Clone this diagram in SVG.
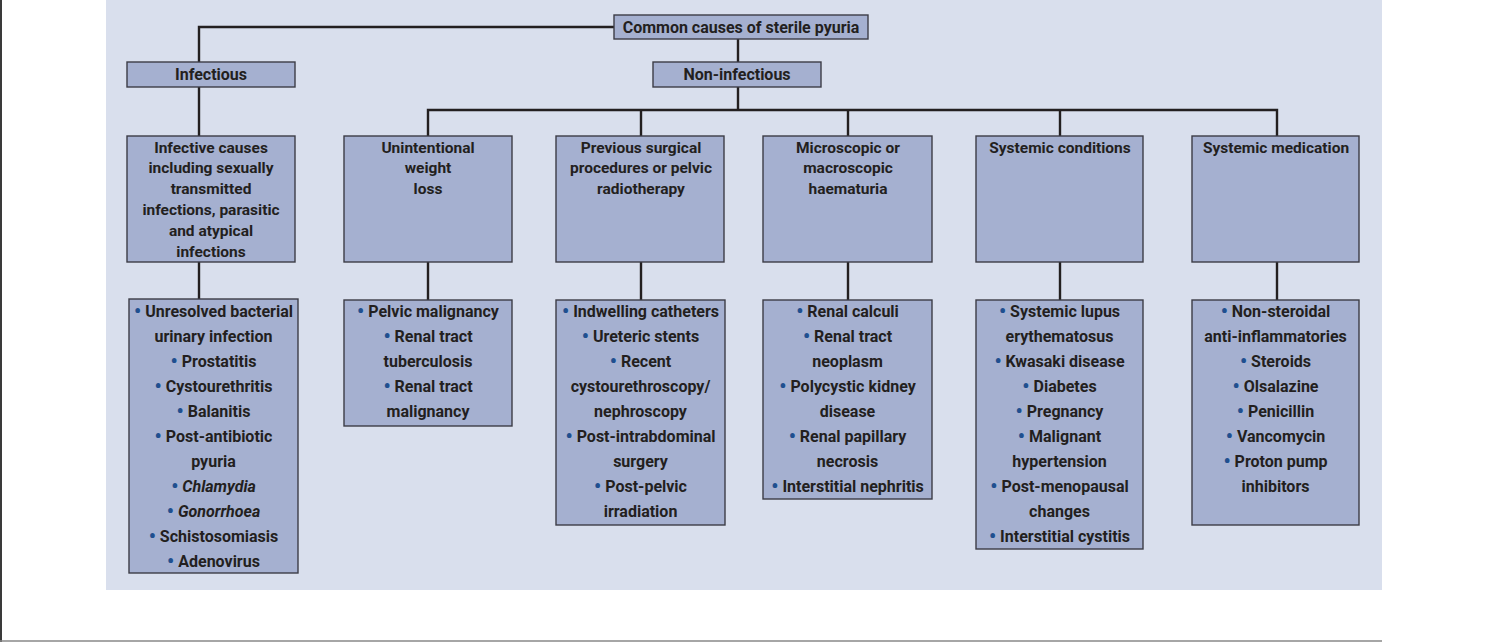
<svg xmlns="http://www.w3.org/2000/svg" width="1485" height="642" viewBox="0 0 1485 642">
<style>
.bg{fill:#d9dfed}
.box{fill:#a5b0d0;stroke:#3c3c46;stroke-width:1.4}
.t{font-family:Roboto,"Liberation Sans",sans-serif;font-weight:700;font-size:15.5px;fill:#231f20;text-anchor:middle;dominant-baseline:central}
.h{font-size:16px}
.l{font-size:16px}
.b{fill:#1f4f8f;font-size:20px}
.i{font-style:italic}
.c{fill:none;stroke:#231f20;stroke-width:2.4}
</style>
<rect x="0" y="0" width="1485" height="642" fill="#ffffff"/>
<rect class="bg" x="106" y="0" width="1276" height="590"/>
<line x1="1" y1="0" x2="1" y2="642" stroke="#3a3a3a" stroke-width="2"/>
<line x1="0" y1="641" x2="1382" y2="641" stroke="#888888" stroke-width="1.5"/>
<g id="connectors">
<polyline class="c" points="614,27 199,27 199,62"/>
<line class="c" x1="199" y1="87" x2="199" y2="136"/>
<line class="c" x1="738" y1="39" x2="738" y2="62"/>
<line class="c" x1="738" y1="87" x2="738" y2="110"/>
<polyline class="c" points="428,136 428,110 1277,110 1277,136"/>
<line class="c" x1="641" y1="110" x2="641" y2="136"/>
<line class="c" x1="848" y1="110" x2="848" y2="136"/>
<line class="c" x1="1060" y1="110" x2="1060" y2="136"/>
<line class="c" x1="199" y1="262" x2="199" y2="299"/>
<line class="c" x1="428" y1="262" x2="428" y2="300"/>
<line class="c" x1="641" y1="262" x2="641" y2="300"/>
<line class="c" x1="848" y1="262" x2="848" y2="300"/>
<line class="c" x1="1060" y1="262" x2="1060" y2="300"/>
<line class="c" x1="1277" y1="262" x2="1277" y2="300"/>
</g>
<g id="root">
<rect class="box" x="614" y="15" width="254" height="24"/>
<text class="t h" x="741" y="27">Common causes of sterile pyuria</text>
</g>
<g id="infectious">
<rect class="box" x="127" y="62" width="168" height="25"/>
<text class="t h" x="211" y="74">Infectious</text>
</g>
<g id="noninfectious">
<rect class="box" x="653" y="62" width="168" height="25"/>
<text class="t h" x="737" y="74">Non-infectious</text>
</g>
<g id="cat1">
<rect class="box" x="127" y="136" width="168" height="126"/>
<text class="t"><tspan x="211" y="147.5">Infective causes</tspan><tspan x="211" y="168">including sexually</tspan><tspan x="211" y="189">transmitted</tspan><tspan x="211" y="210">infections, parasitic</tspan><tspan x="211" y="231">and atypical</tspan><tspan x="211" y="252">infections</tspan></text>
</g>
<g id="cat2">
<rect class="box" x="344" y="136" width="168" height="126"/>
<text class="t"><tspan x="428" y="147.5">Unintentional</tspan><tspan x="428" y="168">weight</tspan><tspan x="428" y="189">loss</tspan></text>
</g>
<g id="cat3">
<rect class="box" x="556" y="136" width="168" height="126"/>
<text class="t"><tspan x="641" y="147.5">Previous surgical</tspan><tspan x="641" y="168">procedures or pelvic</tspan><tspan x="641" y="189">radiotherapy</tspan></text>
</g>
<g id="cat4">
<rect class="box" x="763" y="136" width="169" height="126"/>
<text class="t"><tspan x="848" y="147.5">Microscopic or</tspan><tspan x="848" y="168">macroscopic</tspan><tspan x="848" y="189">haematuria</tspan></text>
</g>
<g id="cat5">
<rect class="box" x="976" y="136" width="167" height="126"/>
<text class="t"><tspan x="1060" y="148">Systemic conditions</tspan></text>
</g>
<g id="cat6">
<rect class="box" x="1192" y="136" width="167" height="126"/>
<text class="t"><tspan x="1276" y="148">Systemic medication</tspan></text>
</g>
<g id="list1">
<rect class="box" x="129" y="299" width="169" height="274"/>
<text class="t l"><tspan x="213.5" y="311"><tspan class="b">•</tspan> Unresolved bacterial</tspan><tspan x="213.5" y="336">urinary infection</tspan><tspan x="213.5" y="361"><tspan class="b">•</tspan> Prostatitis</tspan><tspan x="213.5" y="386"><tspan class="b">•</tspan> Cystourethritis</tspan><tspan x="213.5" y="411"><tspan class="b">•</tspan> Balanitis</tspan><tspan x="213.5" y="436"><tspan class="b">•</tspan> Post-antibiotic</tspan><tspan x="213.5" y="461">pyuria</tspan><tspan x="213.5" y="486"><tspan class="b">•</tspan> <tspan class="i">Chlamydia</tspan></tspan><tspan x="213.5" y="511"><tspan class="b">•</tspan> <tspan class="i">Gonorrhoea</tspan></tspan><tspan x="213.5" y="536"><tspan class="b">•</tspan> Schistosomiasis</tspan><tspan x="213.5" y="561"><tspan class="b">•</tspan> Adenovirus</tspan></text>
</g>
<g id="list2">
<rect class="box" x="344" y="300" width="168" height="126"/>
<text class="t l"><tspan x="428" y="311"><tspan class="b">•</tspan> Pelvic malignancy</tspan><tspan x="428" y="336"><tspan class="b">•</tspan> Renal tract</tspan><tspan x="428" y="361">tuberculosis</tspan><tspan x="428" y="386"><tspan class="b">•</tspan> Renal tract</tspan><tspan x="428" y="411">malignancy</tspan></text>
</g>
<g id="list3">
<rect class="box" x="556" y="300" width="169" height="225"/>
<text class="t l"><tspan x="640.5" y="311"><tspan class="b">•</tspan> Indwelling catheters</tspan><tspan x="640.5" y="336"><tspan class="b">•</tspan> Ureteric stents</tspan><tspan x="640.5" y="361"><tspan class="b">•</tspan> Recent</tspan><tspan x="640.5" y="386">cystourethroscopy/</tspan><tspan x="640.5" y="411">nephroscopy</tspan><tspan x="640.5" y="436"><tspan class="b">•</tspan> Post-intrabdominal</tspan><tspan x="640.5" y="461">surgery</tspan><tspan x="640.5" y="486"><tspan class="b">•</tspan> Post-pelvic</tspan><tspan x="640.5" y="511">irradiation</tspan></text>
</g>
<g id="list4">
<rect class="box" x="763" y="300" width="169" height="199"/>
<text class="t l"><tspan x="847.5" y="311"><tspan class="b">•</tspan> Renal calculi</tspan><tspan x="847.5" y="336"><tspan class="b">•</tspan> Renal tract</tspan><tspan x="847.5" y="361">neoplasm</tspan><tspan x="847.5" y="386"><tspan class="b">•</tspan> Polycystic kidney</tspan><tspan x="847.5" y="411">disease</tspan><tspan x="847.5" y="436"><tspan class="b">•</tspan> Renal papillary</tspan><tspan x="847.5" y="461">necrosis</tspan><tspan x="847.5" y="486"><tspan class="b">•</tspan> Interstitial nephritis</tspan></text>
</g>
<g id="list5">
<rect class="box" x="976" y="300" width="167" height="249"/>
<text class="t l"><tspan x="1059.5" y="311"><tspan class="b">•</tspan> Systemic lupus</tspan><tspan x="1059.5" y="336">erythematosus</tspan><tspan x="1059.5" y="361"><tspan class="b">•</tspan> Kwasaki disease</tspan><tspan x="1059.5" y="386"><tspan class="b">•</tspan> Diabetes</tspan><tspan x="1059.5" y="411"><tspan class="b">•</tspan> Pregnancy</tspan><tspan x="1059.5" y="436"><tspan class="b">•</tspan> Malignant</tspan><tspan x="1059.5" y="461">hypertension</tspan><tspan x="1059.5" y="486"><tspan class="b">•</tspan> Post-menopausal</tspan><tspan x="1059.5" y="511">changes</tspan><tspan x="1059.5" y="536"><tspan class="b">•</tspan> Interstitial cystitis</tspan></text>
</g>
<g id="list6">
<rect class="box" x="1192" y="300" width="167" height="225"/>
<text class="t l"><tspan x="1275.5" y="311"><tspan class="b">•</tspan> Non-steroidal</tspan><tspan x="1275.5" y="336">anti-inflammatories</tspan><tspan x="1275.5" y="361"><tspan class="b">•</tspan> Steroids</tspan><tspan x="1275.5" y="386"><tspan class="b">•</tspan> Olsalazine</tspan><tspan x="1275.5" y="411"><tspan class="b">•</tspan> Penicillin</tspan><tspan x="1275.5" y="436"><tspan class="b">•</tspan> Vancomycin</tspan><tspan x="1275.5" y="461"><tspan class="b">•</tspan> Proton pump</tspan><tspan x="1275.5" y="486">inhibitors</tspan></text>
</g>
</svg>
